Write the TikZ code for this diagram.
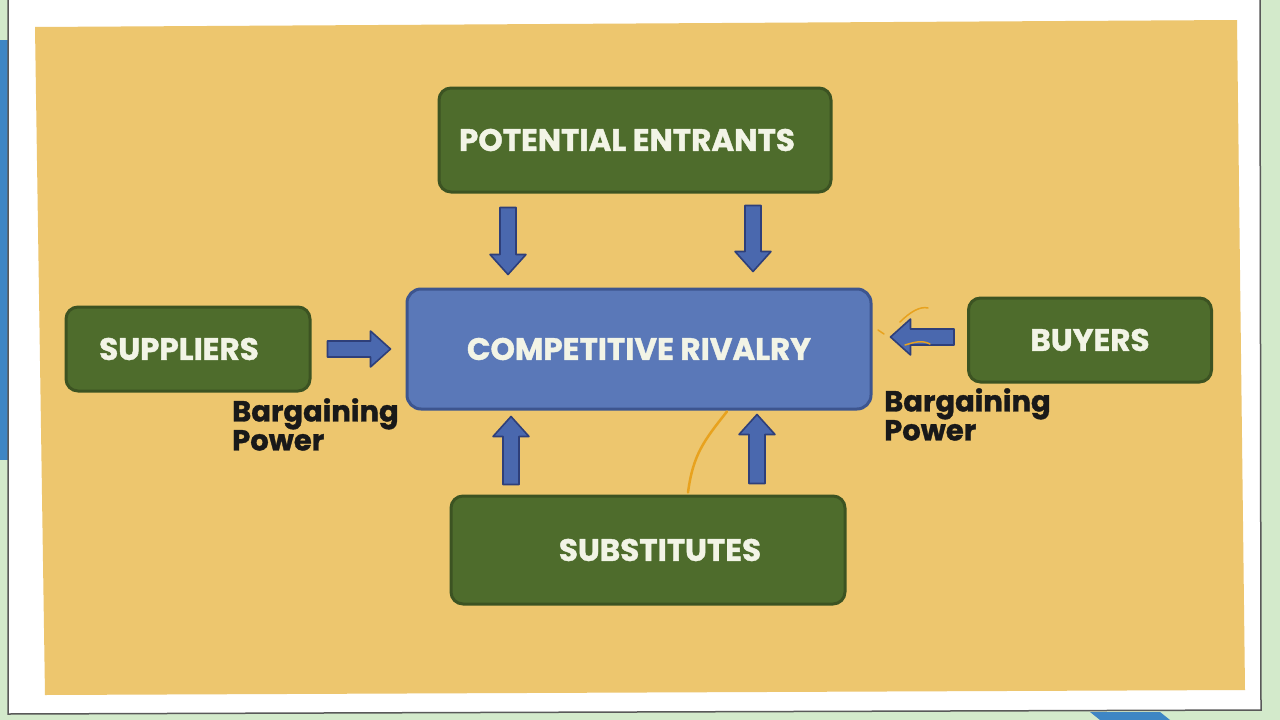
\documentclass[tikz,border=0pt]{standalone}
\usepackage{fontspec}
\setmainfont{Poppins}
\newfontfamily\heavy{Poppins}[BoldFeatures={FakeBold=1.2}]
\usetikzlibrary{calc}
\definecolor{tan}{HTML}{EDC66E}
\definecolor{gfill}{HTML}{4E6C2C}
\definecolor{gline}{HTML}{3C5322}
\definecolor{bfill}{HTML}{5A78B8}
\definecolor{bline}{HTML}{3D558F}
\definecolor{afill}{HTML}{4A68AE}
\definecolor{aline}{HTML}{2E3F7A}
\definecolor{wtext}{HTML}{F2F4E6}
\definecolor{outgreen}{HTML}{D3EACB}
\definecolor{outblue}{HTML}{3E86C4}
\definecolor{orangeline}{HTML}{E8A21E}
\tikzset{
  gbox/.style={draw=gline, line width=3pt, fill=gfill, rounded corners=12pt,
    text=wtext, font=\heavy\bfseries\fontsize{31}{34}\selectfont, inner sep=0pt},
  bbox/.style={draw=bline, line width=3pt, fill=bfill, rounded corners=14pt,
    text=wtext, font=\heavy\bfseries\fontsize{31}{34}\selectfont, inner sep=0pt},
  lbl/.style={text=black!90, font=\heavy\bfseries\fontsize{29}{29}\selectfont, align=left, anchor=north west, inner sep=0pt},
  arr/.style={draw=aline, line width=1.6pt, fill=afill, line join=round},
}
\newcommand\barrow[2]{%
  \draw[arr] let \p1=($(#2)-(#1)$), \n1={atan2(\y1,\x1)}, \n2={veclen(\x1,\y1)} in
    [shift={(#1)}, rotate=\n1] (0,-8) -- (\n2-20,-8) -- (\n2-20,-18) -- (\n2,0)
    -- (\n2-20,18) -- (\n2-20,8) -- (0,8) -- cycle;}
\begin{document}
\begin{tikzpicture}[x=1pt,y=-1pt]
\useasboundingbox (0,0) rectangle (1280,720);
% surroundings
\fill[outgreen] (0,0) rectangle (1280,720);
\fill[outblue] (0,40) rectangle (12,460);
\fill[black!70] (50,0) rectangle (140,3);
\fill[outblue] (1090,712) -- (1100,720) -- (1170,720) -- (1160,712) -- cycle;
% white card
\draw[black!65, line width=1.5pt, fill=white] (8,-2) -- (1260,-2) -- (1261,710) -- (8,714) -- cycle;
% tan board
\fill[tan] (35,27) -- (1237,20) -- (1245,690) -- (45,695) -- cycle;
% boxes
\node[gbox, minimum width=392pt, minimum height=104pt] (pe) at (635,140) {\hspace*{-16pt}POTENTIAL ENTRANTS};
\node[bbox, minimum width=464pt, minimum height=120pt] (cr) at (639,349) {COMPETITIVE RIVALRY};
\node[gbox, minimum width=244pt, minimum height=84pt] (sup) at (188,349) {\hspace*{-18pt}SUPPLIERS};
\node[gbox, minimum width=243pt, minimum height=84pt] (buy) at (1090,340) {BUYERS};
\node[gbox, minimum width=394pt, minimum height=108pt] (sub) at (648,550) {\hspace*{24pt}SUBSTITUTES};
% labels
\node[lbl] (lbl1) at (232,398) {Bargaining\\Power};
\node[lbl] (lbl2) at (884,388) {Bargaining\\Power};
% arrow anchors
\coordinate (pe1) at ($(pe.south)+(-127,14)$);
\coordinate (cr1) at ($(cr.north)+(-131,-13)$);
\coordinate (pe2) at ($(pe.south)+(118,12)$);
\coordinate (cr2) at ($(cr.north)+(114,-16)$);
\coordinate (sub1) at ($(sub.north)+(-137,-10)$);
\coordinate (cr3) at ($(cr.south)+(-128,6)$);
\coordinate (sub2) at ($(sub.north)+(109,-11)$);
\coordinate (cr4) at ($(cr.south)+(118,4)$);
\coordinate (sup1) at ($(sup.east)+(16,0)$);
\coordinate (cr5) at ($(cr.west)+(-15,0)$);
\coordinate (buy1) at ($(buy.west)+(-13,-3)$);
\coordinate (cr6) at ($(cr.east)+(18,-12)$);
\barrow{pe1}{cr1}
\barrow{pe2}{cr2}
\barrow{sub1}{cr3}
\barrow{sub2}{cr4}
\barrow{sup1}{cr5}
\barrow{buy1}{cr6}
% orange marks
\draw[orangeline, line width=2.5pt, line cap=round]
  ($(cr.south)+(88,1)$) .. controls ($(cr.south)+(65,30)$) and ($(sub.north)+(45,-40)$) .. ($(sub.north)+(40,-2)$);
\draw[orangeline, line width=1.5pt, line cap=round]
  (900,322) .. controls (910,312) and (920,306) .. (928,308)
  (905,345) .. controls (915,342) and (922,340) .. (930,344)
  (878,330) -- (884,334);
\end{tikzpicture}
\end{document}
